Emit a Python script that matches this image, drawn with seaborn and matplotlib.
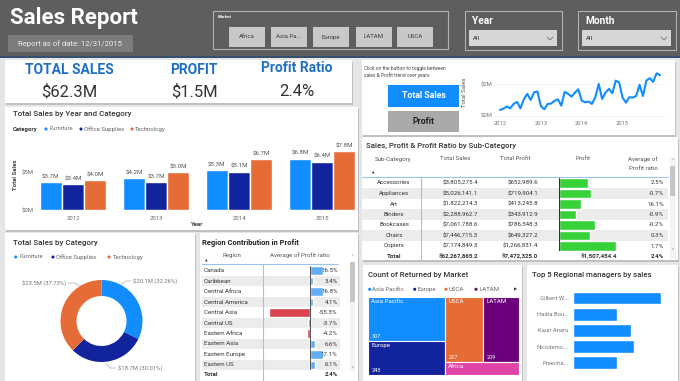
import numpy as np
import pandas as pd
import matplotlib
matplotlib.use('Agg')
import matplotlib.pyplot as plt
from matplotlib.patches import Rectangle
import seaborn as sns

# ---- data ----
market_buttons = ['Africa', 'Asia Pa...', 'Europe', 'LATAM', 'USCA']

kpi_labels = ['TOTAL SALES', 'PROFIT', 'Profit Ratio']
kpi_values = ['$62.3M', '$1.5M', '2.4%']

years = ['2012', '2013', '2014', '2015']
categories = ['Furniture', 'Office Supplies', 'Technology']
furniture_sales = [3.7, 4.2, 5.3, 6.8]
office_sales = [3.4, 3.7, 5.1, 6.4]
technology_sales = [4.0, 5.0, 6.7, 7.8]

category_sales = [20.1, 18.7, 23.5]
category_share = [32.26, 30.01, 37.73]

# monthly total sales ($M), Jan 2012 .. Dec 2015
monthly_sales = [0.38, 0.46, 0.59, 0.48, 0.76, 0.88, 0.48, 1.05, 1.39, 1.01, 1.49, 1.54,
                 0.63, 0.42, 0.76, 0.78, 0.95, 1.05, 0.65, 1.52, 1.39, 1.22, 1.47, 1.68,
                 0.97, 0.86, 0.91, 0.76, 1.18, 2.02, 1.07, 1.47, 1.71, 1.43, 2.23, 2.11,
                 1.16, 0.84, 1.18, 1.16, 1.26, 1.96, 1.26, 2.23, 2.38, 2.15, 2.69, 2.57]

subcats = ['Accessories', 'Appliances', 'Art', 'Binders', 'Bookcases', 'Chairs', 'Copiers']
sub_total_sales = [3805275.4, 5026141.1, 1822214.3, 2288962.7, 7061788.6, 7446715.3, 7174849.3]
sub_total_profit = [652989.6, 719904.1, 413245.8, 343912.9, 786548.3, 649327.2, 1266831.4]
sub_profit = [129600, 141700, 96600, 75700, 160000, 140600, 258500]
sub_ratio = [2.5, -0.7, 16.1, -0.9, -0.2, 0.3, 1.7]
sub_total_row = ['Total', '$62,267,865.2', '$7,472,325.0', '$1,507,454.4', '2.4%']

regions = ['Canada', 'Caribbean', 'Central Africa', 'Central America', 'Central Asia',
           'Central US', 'Eastern Africa', 'Eastern Asia', 'Eastern Europe', 'Eastern US']
region_ratio = [16.5, 3.4, 16.8, 4.1, -55.3, -3.7, -4.2, 6.6, 17.1, 6.1]
region_total = '2.4%'

markets = ['Asia Pacific', 'Europe', 'USCA', 'LATAM', 'Africa']
returned = [307, 243, 227, 209, 89]

managers = ['Gilbert W...', 'Hadia Bou...', 'Kauri Anaru', 'Nicodemo...', 'Preecha...']
manager_sales = [8.74, 4.37, 5.77, 6.10, 4.37]

cat_colors = ['#118DFF', '#12239E', '#E66C37']
market_colors = ['#118DFF', '#12239E', '#E66C37', '#6B007B', '#E044A7']

sns.set_theme(style='white')
plt.rcParams['font.family'] = ['Roboto', 'DejaVu Sans']

W, H = 680, 381
fig = plt.figure(figsize=(W / 100, H / 100), dpi=100)
fig.patch.set_facecolor('#e6e6e6')

bg = fig.add_axes([0, 0, 1, 1], zorder=0)
bg.set_xlim(0, W)
bg.set_ylim(H, 0)
bg.axis('off')


def px_axes(x0, y0, x1, y1):
    ax = fig.add_axes([x0 / W, 1 - y1 / H, (x1 - x0) / W, (y1 - y0) / H], zorder=2)
    ax.patch.set_alpha(0)
    return ax


def box(x0, y0, x1, y1, fc, ec='none', lw=0.8, z=2):
    bg.add_patch(Rectangle((x0, y0), x1 - x0, y1 - y0, facecolor=fc, edgecolor=ec,
                           linewidth=lw, zorder=z))


def card(x0, y0, x1, y1):
    box(x0 + 1.2, y0 + 1.5, x1 + 1.2, y1 + 1.5, '#c0c0c0', z=1)
    box(x0, y0, x1, y1, 'white', z=2)


def txt(x, y, s, size=4.4, color='#333333', ha='left', weight='normal', **kw):
    bg.text(x, y, s, fontsize=size, color=color, ha=ha, va='center',
            fontweight=weight, zorder=6, **kw)


def clean(ax):
    for sp in ax.spines.values():
        sp.set_visible(False)
    ax.tick_params(length=0)


# ---- header ----
box(0, 0, W, 56, '#5e5e5e')
box(0, 55.5, W, 57.5, '#34506e', z=3)
txt(10, 18, 'Sales Report', size=16, color='white', weight='bold')
box(8, 35, 133, 52, '#7c7c7c', z=3)
txt(70.5, 43.5, 'Report as of date: 12/31/2015', size=5.6, color='#eeeeee', ha='center')
box(213, 11, 448, 49, 'none', ec='#b0b0b0', z=3)
txt(218, 16.5, 'Market', size=3.2, color='white', weight='bold')
for bx, name in zip([229, 271, 313, 356, 397], market_buttons):
    box(bx, 27, bx + 36, 47, '#c8c8c8', z=3)
    txt(bx + 18, 37, name, size=4.3, color='#3a3a3a', ha='center')
for x0, x1, label in [(465, 562, 'Year'), (578, 676, 'Month')]:
    box(x0, 11, x1, 50, 'none', ec='#b0b0b0', z=3)
    txt(x0 + 7, 21, label, size=7.3, color='white', weight='bold')
    box(x0 + 4, 30, x1 - 5, 46, '#d6d6d6', z=3)
    txt(x0 + 8, 39, 'All', size=4.5, color='#333333')
    bg.plot([x1 - 15, x1 - 12, x1 - 9], [37, 40, 37], color='#777777', lw=0.6, zorder=6)

# ---- KPI card ----
card(5, 60, 352, 103)
for cx, ly, lab, val in zip([69, 194, 297], [70, 70.5, 68.5], kpi_labels, kpi_values):
    txt(cx, ly, lab, size=10, color='#1f6fc5', ha='center', weight='bold')
    txt(cx, 91.5, val, size=12, color='#333333', ha='center')

# ---- trend card ----
card(362, 60, 675, 135)
txt(364, 68.5, 'Click on the button to toggle between', size=3.5, color='#444444')
txt(364, 75.5, 'sales & Profit trend over years', size=3.5, color='#444444')
box(388, 85, 459, 107, '#118DFF', z=3)
txt(423.5, 96, 'Total Sales', size=6.3, color='white', ha='center', weight='bold')
box(388, 111, 459, 132, '#a9a9a9', z=3)
txt(423.5, 121.5, 'Profit', size=6.3, color='#222222', ha='center', weight='bold')

ax = px_axes(495, 66, 668, 118)
sns.lineplot(x=np.arange(len(monthly_sales)), y=monthly_sales, color='#118DFF', lw=1.5, ax=ax)
ax.set_xlim(-1.47, 49.35)
ax.set_ylim(-0.13, 3.15)
ax.set_yticks([0, 2], ['$0M', '$2M'])
ax.set_xticks([0, 12, 24, 36], years)
ax.grid(axis='y', color='#dddddd', lw=0.6, ls=':')
clean(ax)
ax.tick_params(labelsize=4.2, labelcolor='#777777', pad=2)
ax.set_ylabel('Total Sales', fontsize=4.2, color='#555555')
ax.yaxis.set_label_coords(-0.16, 0.5)

# ---- bar chart card ----
card(5, 107, 358, 230)
txt(13, 114, 'Total Sales by Year and Category', size=5.8, weight='medium')
txt(13, 129, 'Category', size=4.3, weight='bold')
bg.scatter([46, 81, 132], [129] * 3, s=5, c=cat_colors, zorder=6, linewidths=0)
for x, c in zip([49, 84.5, 135], categories):
    txt(x, 129, c, size=4.3, color='#666666')

sales_df = pd.DataFrame({
    'Year': years * 3,
    'Category': [c for c in categories for _ in years],
    'Sales': furniture_sales + office_sales + technology_sales,
})
ax = px_axes(36, 140, 357, 210.3)
sns.barplot(data=sales_df, x='Year', y='Sales', hue='Category', palette=cat_colors,
            saturation=1, width=0.8, legend=False, ax=ax)
ax.set_xlim((36 - 73) / 83, (357 - 73) / 83)
ax.set_ylim(0, 9.25)
ax.set_yticks([0, 5], ['$0M', '$5M'])
for cont in ax.containers:
    ax.bar_label(cont, labels=[f'${v:.1f}M' for v in cont.datavalues], padding=2,
                 fontsize=4.4, color='#555555')
clean(ax)
ax.tick_params(labelsize=4.3, labelcolor='#666666', pad=2)
ax.tick_params(axis='x', pad=4)
ax.set_xlabel('Year', fontsize=4.3, fontweight='bold', color='#444444')
ax.set_ylabel('Total Sales', fontsize=4.3, fontweight='bold', color='#444444')
ax.xaxis.set_label_coords(0.5, -0.165)
ax.yaxis.set_label_coords(-0.055, 0.5)

# ---- sub-category table ----
card(362, 137, 678, 260)
txt(366.5, 146, 'Sales, Profit & Profit Ratio by Sub-Category', size=5.6, weight='medium')
hdr_c = '#555555'
txt(393, 159, 'Sub-Category', size=4.4, color=hdr_c, ha='center')
txt(455, 159, 'Total Sales', size=4.4, color=hdr_c, ha='center')
txt(515, 159, 'Total Profit', size=4.4, color=hdr_c, ha='center')
txt(583, 159, 'Profit', size=4.4, color=hdr_c, ha='center')
txt(643, 159, 'Average of', size=4.4, color=hdr_c, ha='center')
txt(643, 168, 'Profit ratio', size=4.4, color=hdr_c, ha='center')
txt(373, 173, '\u25b2', size=2.5, color='#333333', ha='center')
row_y = [183 + 10.5 * i for i in range(len(subcats))]
for i in range(1, len(subcats), 2):
    box(362, row_y[i] - 5.25, 668, row_y[i] + 5.25, '#ececec', z=3)
bg.plot([362, 668], [176.5, 176.5], color='#9cc3ef', lw=0.8, zorder=4)
bg.plot([421, 421], [176.5, 260], color='#9cc3ef', lw=0.8, zorder=4)
for y, n, s, p, r in zip(row_y, subcats, sub_total_sales, sub_total_profit, sub_ratio):
    txt(394, y, n, size=4.4, ha='center')
    txt(478, y, f'${s:,.1f}', size=4.4, ha='right')
    txt(538, y, f'${p:,.1f}', size=4.4, ha='right')
    txt(664, y, f'{r:.1f}%', size=4.4, ha='right')
ty = 256.5
txt(394, ty, sub_total_row[0], size=4.4, ha='center', weight='bold')
txt(478, ty, sub_total_row[1], size=4.4, ha='right', weight='bold')
txt(538, ty, sub_total_row[2], size=4.4, ha='right', weight='bold')
txt(617, ty, sub_total_row[3], size=4.4, ha='right', weight='bold')
txt(664, ty, sub_total_row[4], size=4.4, ha='right', weight='bold')
box(669.5, 157, 675.5, 259, '#f3f3f3', z=3)
box(670, 166, 675, 196, '#c6c6c6', z=4)
txt(672.5, 160, '^', size=3, color='#888888', ha='center')
txt(672.5, 249, 'v', size=3, color='#888888', ha='center')

ax = px_axes(559.3, 177.75, 640, 251.25)
sns.barplot(x=sub_profit, y=subcats, color='#37d23a', saturation=1, width=0.9, orient='h', ax=ax)
ax.set_xlim(0, 366000)
ax.set_ylim(len(subcats) - 0.5, -0.5)
ax.axvline(0, color='#333333', lw=0.8)
ax.axis('off')

# ---- donut card ----
card(5, 233, 195, 381)
txt(13, 242.5, 'Total Sales by Category', size=5.8, weight='medium')
bg.scatter([15.7, 53, 109], [257] * 3, s=5, c=cat_colors, zorder=6, linewidths=0)
for x, c in zip([19, 56.5, 112.5], categories):
    txt(x, 257, c, size=4.3, color='#666666')
ax = px_axes(60.5, 280, 142.5, 362)
ax.pie(category_sales, colors=cat_colors, startangle=90, counterclock=False,
       wedgeprops=dict(width=0.39, linewidth=0))
ax.set_xlim(-1, 1)
ax.set_ylim(-1, 1)
lab_c = '#777777'
labels = [f'${v:.1f}M ({p:.2f}%)' for v, p in zip(category_sales, category_share)]
bg.plot([121, 126, 131], [284.5, 281, 281], color='#aaaaaa', lw=0.5, zorder=6)
txt(133, 281, labels[0], size=4.2, color=lab_c)
bg.plot([106, 110, 116], [363.5, 368, 368], color='#aaaaaa', lw=0.5, zorder=6)
txt(118, 368, labels[1], size=4.2, color=lab_c)
bg.plot([68, 75, 80], [283, 283, 286], color='#aaaaaa', lw=0.5, zorder=6)
txt(66, 283, labels[2], size=4.2, color=lab_c, ha='right')

# ---- region table ----
card(200, 233, 358, 381)
txt(202.5, 243, 'Region Contribution in Profit', size=5.4, weight='bold', color='#222222')
txt(232, 255, 'Region', size=4.4, color=hdr_c, ha='center')
txt(300, 255, 'Average of Profit ratio', size=4.4, color=hdr_c, ha='center')
txt(206, 261, '\u25b2', size=2.5, color='#333333', ha='center')
reg_y = [270.7 + 10.47 * i for i in range(len(regions))]
for i in range(1, len(regions), 2):
    box(202, reg_y[i] - 5.2, 340, reg_y[i] + 5.2, '#ececec', z=3)
bg.plot([202, 338], [264, 264], color='#9cc3ef', lw=0.8, zorder=4)
bg.plot([262.7, 262.7], [264, 381], color='#9cc3ef', lw=0.8, zorder=4)
for y, n in zip(reg_y, regions):
    txt(204, y, n, size=4.4)
txt(204, 375, 'Total', size=4.4, weight='bold')
txt(337.7, 375, region_total, size=4.4, weight='bold', ha='right')
box(350, 262, 355, 372, '#f3f3f3', z=3)
box(350.3, 262, 354.7, 302, '#c6c6c6', z=4)
txt(352.5, 256, '^', size=3, color='#888888', ha='center')
txt(352.5, 367, 'v', size=3, color='#888888', ha='center')

ax = px_axes(262.7, 265.5, 340, 370.2)
reg_colors = ['#62aef6' if v > 0 else '#d9434f' for v in region_ratio]
sns.barplot(x=region_ratio, y=regions, hue=regions, palette=reg_colors, saturation=1,
            width=0.82, orient='h', legend=False, ax=ax)
ax.set_xlim(-63.0, 39.3)
ax.set_ylim(len(regions) - 0.5, -0.5)
ax.axvline(0, color='#555555', lw=0.7)
for i, v in enumerate(region_ratio):
    ax.text(36.3, i, f'{v:.1f}%', fontsize=4.4, color='#333333', ha='right', va='center')
ax.axis('off')

# ---- treemap card ----
card(363, 265, 522, 381)
txt(368.5, 274.5, 'Count of Returned by Market', size=5.6, weight='medium')
bg.scatter([369.7, 414.7, 446, 476], [289.3] * 4, s=5, c=market_colors[:4], zorder=6, linewidths=0)
for x, m in zip([372.5, 417.5, 449, 479], markets[:4]):
    txt(x, 289.3, m, size=4.3, color='#666666')
txt(515.5, 289.3, '\u25b6', size=3, color='#333333', ha='center')

ax = px_axes(368.3, 297, 518.7, 375.3)
total = sum(returned)
ap, eu, us, la, af = returned
left_w = (ap + eu) / total
ap_h = ap / (ap + eu)
top_h = (us + la) / (us + la + af)
us_w = (1 - left_w) * us / (us + la)
rects = [(0, 0, left_w, ap_h), (0, ap_h, left_w, 1 - ap_h),
         (left_w, 0, us_w, top_h), (left_w + us_w, 0, 1 - left_w - us_w, top_h),
         (left_w, top_h, 1 - left_w, 1 - top_h)]
for (x, y, w, h), m, n, c in zip(rects, markets, returned, market_colors):
    ax.add_patch(Rectangle((x, y), w, h, facecolor=c, edgecolor='white', linewidth=0.8))
    ax.text(x + 0.02, y + 0.025, m, fontsize=4.4, color='white', va='top', ha='left')
    if m != 'Africa':
        ax.text(x + 0.02, y + h - 0.025, str(n), fontsize=4, color='white', va='bottom', ha='left')
ax.set_xlim(0, 1)
ax.set_ylim(1, 0)
ax.axis('off')

# ---- top managers card ----
card(527, 265, 678, 381)
txt(531.5, 274.5, 'Top 5 Regional managers by sales', size=5.6, weight='medium')
ax = px_axes(573.3, 289.9, 670, 370.9)
sns.barplot(x=manager_sales, y=managers, color='#118DFF', saturation=1, width=0.78,
            orient='h', ax=ax)
ax.set_xlim(0, 9.67)
ax.set_ylim(len(managers) - 0.5, -0.5)
clean(ax)
ax.set_xticks([])
ax.set_xlabel('')
ax.set_ylabel('')
ax.tick_params(axis='y', labelsize=4.2, labelcolor='#777777', pad=3.5)

fig.savefig('out.png', dpi=100, facecolor=fig.get_facecolor())
